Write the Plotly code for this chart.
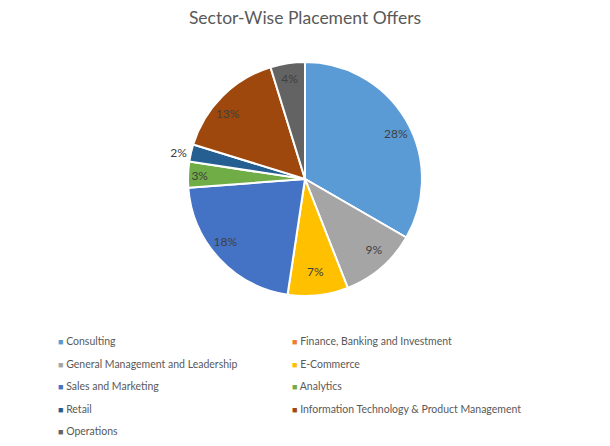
import plotly.graph_objects as go

sectors = ["Consulting", "Finance, Banking and Investment", "General Management and Leadership",
           "E-Commerce", "Sales and Marketing", "Analytics", "Retail",
           "Information Technology & Product Management", "Operations"]
offers = [28, 0, 9, 7, 18, 3, 2, 13, 4]
labels_text = ["28%", "", "9%", "7%", "18%", "3%", "2%", "13%", "4%"]
colors = ["#5B9BD5", "#ED7D31", "#A5A5A5", "#FFC000", "#4472C4", "#70AD47", "#255E91", "#9E480E", "#636363"]
# where each label is drawn: on the slice ("in"), beyond the rim ("out"), or near the rim ("rim")
label_place = ["rim", "in", "rim", "in", "rim", "in", "out", "rim", "in"]
# legend column of each entry (two columns, filled row by row)
legend_col = ["legend", "legend2"] * 4 + ["legend"]

W, H = 610, 446
CX, CY, R = 305, 179, 117
R_LBL = 87

def dom(r):
    return dict(x=[(CX - r) / W, (CX + r) / W], y=[1 - (CY + r) / H, 1 - (CY - r) / H])

# main pie
fig = go.Figure(go.Pie(
    labels=sectors, values=offers,
    text=[t if p in ("in", "out") else "" for t, p in zip(labels_text, label_place)],
    textinfo="text",
    textposition=["outside" if p == "out" else "inside" for p in label_place],
    insidetextorientation="horizontal",
    sort=False, direction="clockwise", rotation=0,
    marker=dict(colors=colors, line=dict(color="white", width=2)),
    textfont=dict(family="Lato", size=12, color="#404040"),
    hoverinfo="label+value", showlegend=False,
    domain=dom(R),
))
# label carrier (transparent, smaller radius) so labels sit near the rim like the original
fig.add_trace(go.Pie(
    labels=sectors, values=offers,
    text=[t if p == "rim" else "" for t, p in zip(labels_text, label_place)],
    textinfo="text", textposition="outside",
    sort=False, direction="clockwise", rotation=0,
    marker=dict(colors=["rgba(0,0,0,0)"] * len(offers), line=dict(width=0)),
    textfont=dict(family="Lato", size=12, color="#404040"),
    hoverinfo="skip", showlegend=False,
    domain=dom(R_LBL),
))
# legend entries (two columns)
for name, col, lg in zip(sectors, colors, legend_col):
    fig.add_trace(go.Scatter(
        x=[None], y=[None], mode="markers",
        marker=dict(color="rgba(0,0,0,0)", size=1),
        name="<span style='font-size:9px;color:%s'>\u25A0</span><span style='font-size:10.5px'> %s</span>" % (col, name),
        legend=lg, hoverinfo="skip",
    ))

leg_common = dict(orientation="v", xanchor="left", yanchor="top", y=1 - 323 / H,
                  bgcolor="rgba(0,0,0,0)",
                  font=dict(family="Lato", size=15, color="#595959"))
fig.update_layout(
    width=W, height=H,
    margin=dict(l=0, r=0, t=0, b=0, autoexpand=False),
    paper_bgcolor="white", plot_bgcolor="white",
    xaxis=dict(visible=False), yaxis=dict(visible=False),
    title=dict(text="Sector-Wise Placement Offers", x=0.5, xanchor="center",
               y=1 - 18 / H, yanchor="middle",
               font=dict(family="Lato", size=17.5, color="#595959")),
    legend=dict(x=18 / W, **leg_common),
    legend2=dict(x=252 / W, **leg_common),
)
fig.write_html("out.html")
